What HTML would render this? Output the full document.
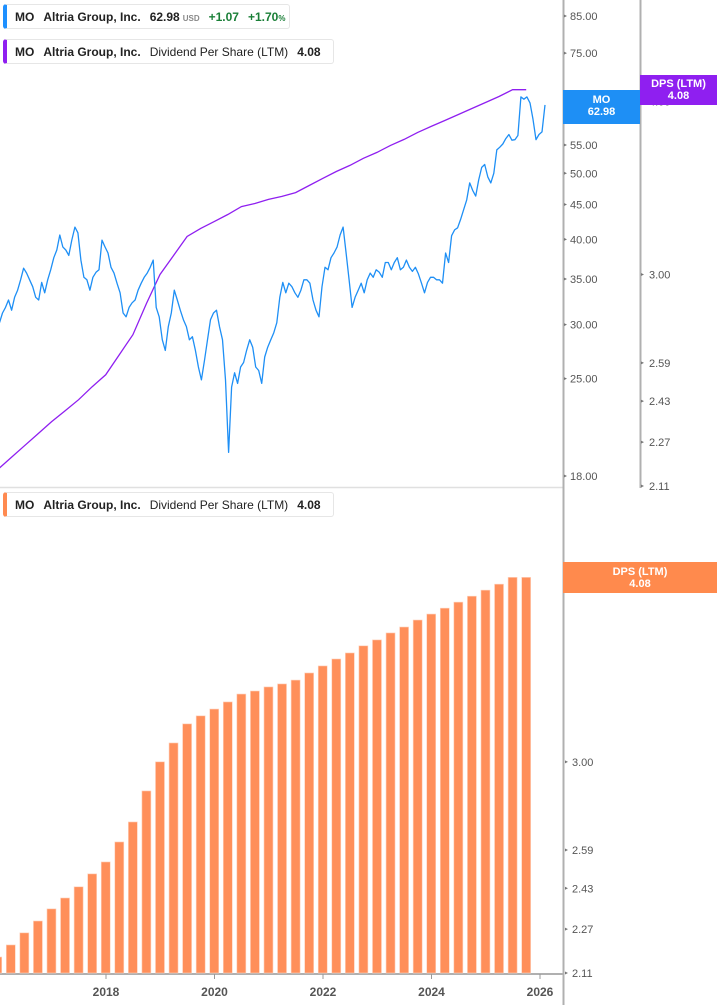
<!DOCTYPE html>
<html><head><meta charset="utf-8">
<style>
body{margin:0;background:#fff;font-family:"Liberation Sans",Arial,sans-serif;}
#wrap{position:relative;width:717px;height:1005px;overflow:hidden;}
.leg{position:absolute;left:3px;height:25px;border:1px solid #e6e6e6;border-left:4px solid #1e90ff;border-radius:3px;background:#fff;font-size:12px;font-weight:bold;color:#222;line-height:25px;padding-left:8px;box-sizing:border-box;white-space:nowrap}
.leg span{margin-right:9px}
.box{position:absolute;color:#fff;font-size:11px;font-weight:bold;text-align:center;line-height:12px}
</style></head><body>
<div id="wrap">
<svg id="svg" width="717" height="1005" style="position:absolute;left:0;top:0"></svg>
<div class="leg" style="top:4px;width:287px"><span>MO</span><span>Altria Group, Inc.</span><span>62.98<small style="font-size:8px;color:#888;margin-left:3px">USD</small></span><span style="color:#1a7f37">+1.07</span><span style="color:#1a7f37;margin-right:0">+1.70<small style="font-size:8px">%</small></span></div>
<div class="leg" style="top:39px;width:331px;border-left-color:#8f1ff0"><span>MO</span><span>Altria Group, Inc.</span><span style="font-weight:normal">Dividend Per Share (LTM)</span><span>4.08</span></div>
<div class="leg" style="top:492px;width:331px;border-left-color:#ff8a50"><span>MO</span><span>Altria Group, Inc.</span><span style="font-weight:normal">Dividend Per Share (LTM)</span><span>4.08</span></div>
<div class="box" style="left:563px;top:90px;width:77px;height:34px;background:#1e8ff5;padding-top:4px;box-sizing:border-box">MO<br>62.98</div>
<div class="box" style="left:640px;top:75px;width:77px;height:30px;background:#8f1ff0;padding-top:3px;box-sizing:border-box">DPS (LTM)<br>4.08</div>
<div class="box" style="left:563px;top:562px;width:154px;height:31px;background:#ff8a4d;padding-top:4px;box-sizing:border-box">DPS (LTM)<br>4.08</div>
</div>
<script>
const priceStart = 2016.037;
const priceStep = 1/18;
const priceValues = [30.2,31.2,31.8,32.6,31.5,32.9,33.7,34.9,36.3,35.7,34.9,34.1,32.9,32.6,34.6,33.4,34.9,36.1,37.6,38.6,40.6,39.0,38.6,37.9,39.9,41.7,40.9,37.3,35.2,34.9,33.7,35.2,35.8,36.1,39.9,39.0,38.2,36.4,35.7,34.5,33.4,31.2,30.8,31.8,32.3,32.6,33.7,34.5,35.2,35.7,36.4,37.3,31.8,30.8,28.5,27.5,29.8,31.2,33.7,32.6,31.5,30.5,29.8,28.5,28.8,27.5,26.0,24.9,26.6,28.5,30.5,31.2,31.5,29.8,28.5,24.9,19.5,24.3,25.5,24.6,26.0,26.4,27.5,28.5,27.8,26.0,25.7,24.6,26.9,27.8,28.5,29.2,30.2,32.9,34.6,33.4,34.5,34.1,33.4,32.9,33.7,34.9,34.9,34.5,32.6,31.5,30.8,34.1,36.4,36.1,37.6,38.2,39.0,40.6,41.7,38.2,34.9,31.8,32.9,33.7,34.5,33.4,34.9,35.7,35.2,36.1,35.8,35.2,37.0,37.0,36.1,37.0,37.6,36.1,36.4,37.3,36.4,35.9,36.4,35.6,34.5,33.4,34.6,35.2,35.2,34.9,34.9,34.5,38.2,37.0,40.5,41.3,41.6,42.8,44.2,45.7,48.4,47.2,46.3,48.9,51.0,51.5,49.4,48.4,50.0,54.1,54.6,55.2,56.2,57.0,55.9,56.0,56.8,64.7,64.2,64.7,63.4,60.0,56.0,57.0,57.5,62.98];
const dpsStart = 2015.995;
const dpsStep = 0.25;
const dpsValues = [2.167,2.211,2.256,2.301,2.348,2.391,2.436,2.489,2.539,2.625,2.714,2.858,3.000,3.096,3.196,3.239,3.276,3.315,3.359,3.376,3.399,3.416,3.438,3.479,3.520,3.561,3.597,3.640,3.676,3.719,3.756,3.800,3.838,3.876,3.915,3.954,3.994,4.034,4.08,4.08];
const xTicks = [2018,2020,2022,2024,2026];
const priceTicks = ["85.00","75.00","65.00","55.00","50.00","45.00","40.00","35.00","30.00","25.00","18.00"];
const dpsTicks = ["4.00","3.00","2.59","2.43","2.27","2.11"];

const NS="http://www.w3.org/2000/svg";
const svg=document.getElementById('svg');
function el(tag,attrs,parent){const e=document.createElementNS(NS,tag);for(const k in attrs)e.setAttribute(k,attrs[k]);(parent||svg).appendChild(e);return e;}
const X=t=>106+(t-2018)*54.25;
const Yp=v=>476-Math.log(v/18)*296.3;
const Yd1=v=>486-Math.log(v/2.11)*601;
const Yd2=v=>973-Math.log(v/2.11)*600;

let l=el('line',{x1:0,y1:487.5,x2:563,y2:487.5,stroke:'#e0e0e0','stroke-width':1.5});


l=el('line',{x1:563.5,y1:0,x2:563.5,y2:1005,stroke:'#b0b0b0','stroke-width':2});


l=el('line',{x1:640.5,y1:0,x2:640.5,y2:488,stroke:'#b0b0b0','stroke-width':2});


l=el('line',{x1:0,y1:974,x2:564,y2:974,stroke:'#b0b0b0','stroke-width':2});



priceTicks.forEach(s=>{const y=Yp(parseFloat(s));
 const t=el('text',{x:570,y:y+4,'font-size':11,fill:'#555'});t.textContent=s;
 
 
 el('path',{d:`M564 ${y-1.5}L567 ${y}L564 ${y+1.5}Z`,fill:'#777'});});
dpsTicks.forEach(s=>{const v=parseFloat(s);let y=Yd1(v);
 const t=el('text',{x:649,y:y+4,'font-size':11,fill:'#555'});t.textContent=s;
 
 
 el('path',{d:`M641 ${y-1.5}L644 ${y}L641 ${y+1.5}Z`,fill:'#777'});
 y=Yd2(v);
 const t2=el('text',{x:572,y:y+4,'font-size':11,fill:'#555'});t2.textContent=s;
 
 
 el('path',{d:`M565 ${y-1.5}L568 ${y}L565 ${y+1.5}Z`,fill:'#777'});});
xTicks.forEach(t=>{const x=X(t);
 el('line',{x1:x,y1:974,x2:x,y2:979,stroke:'#999','stroke-width':1});
 const tx=el('text',{x:x,y:996,'font-size':12,'font-weight':'bold',fill:'#555','text-anchor':'middle'});tx.textContent=t;
 
 });

dpsValues.forEach((v,i)=>{const x=X(dpsStart+i*dpsStep);const y=Yd2(v);
 const r=el('rect',{x:x-4.5,y:y,width:9,height:973-y,fill:'#ff8f5a',stroke:'#ffd2bd','stroke-width':0.6});
 
 });

let d=dpsValues.map((v,i)=>(i?'L':'M')+X(dpsStart+i*dpsStep).toFixed(1)+' '+Yd1(v).toFixed(1)).join('');
const dl=el('path',{d:d,fill:'none',stroke:'#8f1ff0','stroke-width':1.3});



d=priceValues.map((v,i)=>(i?'L':'M')+X(priceStart+i*priceStep).toFixed(1)+' '+Yp(v).toFixed(1)).join('');
const pl=el('path',{d:d,fill:'none',stroke:'#1e8ff5','stroke-width':1.3,'stroke-linejoin':'round'});


</script>
</body></html>
